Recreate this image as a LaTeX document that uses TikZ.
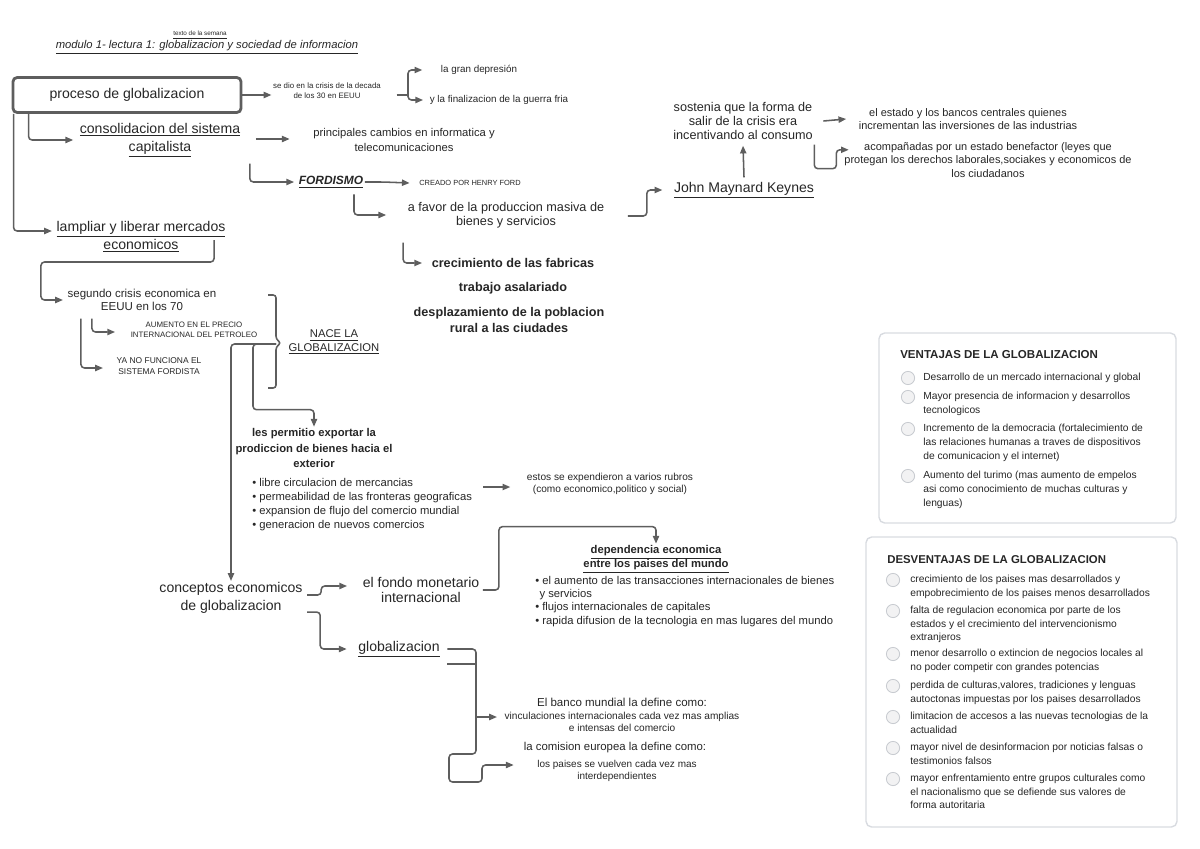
\documentclass[tikz,border=0pt]{standalone}
\usepackage{fontspec}
\setmainfont{Liberation Sans}
\usetikzlibrary{arrows.meta,calc,positioning}
\definecolor{txt}{HTML}{262626}
\definecolor{linea}{HTML}{5E5E5E}
\definecolor{marco}{HTML}{D8DBE0}
\definecolor{bola}{HTML}{F2F2F3}
\definecolor{bolaborde}{HTML}{C8CBD0}
\newcommand{\fz}[2]{\fontsize{#1}{#2}\selectfont}

\begin{document}
\begin{tikzpicture}[x=0.025cm, y=-0.025cm,
	conn/.style={draw=linea, line width=1.1pt, rounded corners=2.5pt, -{Triangle[length=5.5pt,width=4.4pt]}},
	trazo/.style={draw=linea, line width=1.1pt, rounded corners=2.5pt},
	lbl/.style={text=txt, align=center, inner sep=1pt},
	item/.style={text=txt, align=left, anchor=north west, inner sep=0pt},
	bolita/.style={draw=bolaborde, fill=bola, line width=0.6pt},
	caja/.style={draw=marco, line width=1pt, rounded corners=4pt}]
	\useasboundingbox (0,0) rectangle (1200,848);

	% titulo
	\node[lbl, font=\fz{4.5}{5}] (nota) at (200,35) {\underline{texto de la semana}};
	\node[lbl, font=\fz{8}{9}\itshape] (titulo) at (207,47) {\underline{modulo 1- lectura 1: globalizacion y sociedad de informacion}};

	% proceso de globalizacion
	\node[lbl, draw=linea, line width=2pt, rounded corners=3pt, minimum width=5.7cm, minimum height=0.875cm, font=\fz{10}{12}] (proceso) at (127,95) {proceso de globalizacion};
	\node[lbl, font=\fz{5.6}{7}] (sedio) at (327,91) {se dio en la crisis de la decada\\de los 30 en EEUU};
	\node[lbl, font=\fz{7}{8}] (depresion) at (479,70) {la gran depresión};
	\node[lbl, font=\fz{7}{8}] (guerrafria) at (499,100) {y la finalizacion de la guerra fria};
	\coordinate (llave) at (408,95);
	\draw[conn] (proceso.east) -- (proceso.east -| sedio.west);
	\draw[trazo] ($(sedio.east |- llave)+(14,0)$) -- (llave);
	\draw[conn] (llave) |- ($(depresion.west)+(-17,0)$);
	\draw[conn] (llave) |- ($(guerrafria.west)+(-5,0)$);

	% consolidacion
	\node[lbl, font=\fz{10}{12.8}] (capitalismo) at (160,140) {\underline{consolidacion del sistema}\\\underline{capitalista}};
	\draw[conn] ($(proceso.south west)+(17,0)$) |- ($(capitalismo.west)+(-5,0)$);
	\node[lbl, font=\fz{8}{10}] (cambios) at (404,140) {principales cambios en informatica y\\telecomunicaciones};
	\draw[conn] ($(capitalismo.east)+(14,-1)$) -- ($(cambios.west)+(-22,-1)$);
	\node[lbl, font=\fz{8.5}{9}\bfseries\itshape] (fordismo) at (331,182) {\underline{FORDISMO}};
	\draw[conn] ($(capitalismo.south east)+(8,5)$) |- ($(fordismo.west)+(-3,0)$);
	\node[lbl, font=\fz{5.3}{6}] (henryford) at (470,183) {CREADO POR HENRY FORD};
	\draw[conn] (fordismo.east) -- ++(18,0) -- ($(henryford.west)+(-8,0)$);
	\node[lbl, font=\fz{9}{10}] (masiva) at (506,215) {a favor de la produccion masiva de\\bienes y servicios};
	\draw[conn] ($(fordismo.south)+(23,5)$) |- ($(masiva.west)+(-20,0)$);

	% keynes
	\node[lbl, font=\fz{10}{12}] (keynes) at (744,190) {\underline{John Maynard Keynes}};
	\draw[conn] ($(masiva.east)+(22,1)$) -- ++(19,0) |- ($(keynes.west)+(-10,0)$);
	\node[lbl, font=\fz{9}{10.2}] (consumo) at (743,121) {sostenia que la forma de\\salir de la crisis era\\incentivando al consumo};
	\draw[conn] ($(keynes.north)+(0,-3)$) -- ($(consumo.south)+(0,4)$);
	\node[lbl, font=\fz{7.8}{9.4}] (bancos) at (968,119) {el estado y los bancos centrales quienes\\incrementan las inversiones de las industrias};
	\draw[conn] ($(consumo.east)+(9,0)$) -- ($(bancos.west)+(-11,0)$);
	\node[lbl, font=\fz{7.8}{9.6}] (benefactor) at (988,160) {acompañadas por un estado benefactor (leyes que\\protegan los derechos laborales,sociakes y economicos de\\los ciudadanos};
	\draw[conn] ($(consumo.south east)+(0,3)$) -- ++(0,24) -- ++(22,0) |- ($(benefactor.north west)+(6,9)$);

	% fabricas
	\node[lbl, font=\fz{9}{10}\bfseries] (fabricas) at (513,263) {crecimiento de las fabricas};
	\draw[conn] ($(masiva.south west)+(-3,13)$) |- ($(fabricas.west)+(-8,0)$);
	\node[lbl, font=\fz{9}{10}\bfseries] (asalariado) at (513,288) {trabajo asalariado};
	\node[lbl, font=\fz{9}{11.5}\bfseries] (poblacion) at (509,320) {desplazamiento de la poblacion\\rural a las ciudades};

	% mercados
	\node[lbl, font=\fz{10}{12.8}] (mercados) at (141,237) {\underline{lampliar y liberar mercados}\\\underline{economicos}};
	\draw[conn] ($(proceso.south west)+(2,0)$) |- ($(mercados.west)+(-3,-6)$);
	\node[lbl, font=\fz{8.2}{9.5}] (crisis70) at (142,300) {segundo crisis economica en\\EEUU en los 70};
	\draw[conn] ($(mercados.east)+(-13,3)$) -- ++(0,22) -| ($(crisis70.west)+(-25,0)$) -- ($(crisis70.west)+(-3,0)$);
	\node[lbl, font=\fz{5.6}{7}] (petroleo) at (194,330) {AUMENTO EN EL PRECIO\\INTERNACIONAL DEL PETROLEO};
	\draw[conn] ($(crisis70.south west)+(26,6)$) |- ($(petroleo.west)+(-14,2)$);
	\node[lbl, font=\fz{6}{8}] (fordista) at (159,366) {YA NO FUNCIONA EL\\SISTEMA FORDISTA};
	\draw[conn] ($(crisis70.south west)+(15,6)$) |- ($(fordista.west)+(-12,2)$);

	% nace la globalizacion
	\draw[trazo, rounded corners=2pt] (268,295) -- (276,295) -- (276,339) -- (281,343) -- (276,347) -- (276,388) -- (268,388);
	\coordinate (llaveB) at (276,344);
	\node[lbl, font=\fz{8}{9.5}] (nace) at (334,342) {\underline{NACE LA}\\\underline{GLOBALIZACION}};
	\node[lbl, font=\fz{8}{11}\bfseries] (exportar) at (314,448) {les permitio exportar la\\prodiccion de bienes hacia el\\exterior};
	\draw[conn] (llaveB) -- ++(-23,0) |- ($(exportar.north)+(0,-17)$) -- (exportar.north);
	\node[item, font=\fz{8}{10}] (rasgos) at (252,478) {\textbullet\ libre circulacion de mercancias\\\textbullet\ permeabilidad de las fronteras geograficas\\\textbullet\ expansion de flujo del comercio mundial\\\textbullet\ generacion de nuevos comercios};
	\node[lbl, font=\fz{7.2}{8.6}] (rubros) at (610,484) {estos se expendieron a varios rubros\\(como economico,politico y social)};
	\draw[conn] ($(rasgos.north east)+(11,9)$) -- ($(rubros.west)+(-15,3)$);

	% conceptos economicos
	\node[lbl, font=\fz{10}{12.5}] (conceptos) at (231,598) {conceptos economicos\\de globalizacion};
	\draw[conn] (llaveB) -| (conceptos.north);
	\node[lbl, font=\fz{10}{10.5}] (fmi) at (421,590) {el fondo monetario\\internacional};
	\draw[conn] ($(conceptos.east)+(3,-3)$) -- ++(14,0) |- ($(fmi.west)+(-14,-4)$);
	\node[lbl, font=\fz{8}{10}\bfseries] (dependencia) at (656,559) {\underline{dependencia economica}\\\underline{entre los paises del mundo}};
	\draw[conn] ($(fmi.east)+(2,0)$) -- ++(16,0) |- ($(dependencia.north)+(0,-17)$) -- (dependencia.north);
	\node[item, font=\fz{8}{9.4}] (efectos) at (535,576) {\textbullet\ el aumento de las transacciones internacionales de bienes\\\hspace{3pt}y servicios\\\textbullet\ flujos internacionales de capitales\\\textbullet\ rapida difusion de la tecnologia en mas lugares del mundo};
	\node[lbl, font=\fz{10}{11}] (globalizacion) at (399,649) {\underline{globalizacion}};
	\draw[conn] ($(conceptos.south east)+(3,-3)$) -- ++(13,0) |- ($(globalizacion.west)+(-10,0)$);

	% definiciones
	\node[lbl, font=\fz{8.2}{9}] (bm) at (622,702) {El banco mundial la define como:};
	\node[lbl, font=\fz{7.2}{8.5}] (vinculos) at (622,722) {vinculaciones internacionales cada vez mas amplias\\e intensas del comercio};
	\node[lbl, font=\fz{8.1}{9}] (ce) at (615,748) {la comision europea la define como:};
	\node[lbl, font=\fz{7.1}{8.5}] (interdep) at (617,771) {los paises se vuelven cada vez mas\\interdependientes};
	\coordinate (ramaA) at (476,649);
	\coordinate (ramaB) at (476,717);
	\coordinate (ramaC) at (476,754);
	\draw[trazo] ($(globalizacion.east)+(6,15)$) -- (ramaA |- 0,664);
	\draw[conn] (ramaB) -- ($(vinculos.west |- ramaB)+(-6,0)$);
	\draw[conn] ($(globalizacion.east)+(6,0)$) -- (ramaA) -- (ramaC) -- ++(-27,0) -- ++(0,28) -- ++(33,0) |- ($(interdep.west)+(-22,-6)$);

	% ventajas
	\draw[caja] (879,333) rectangle (1176,523);
	\node[anchor=west, inner sep=0pt, text=txt, font=\fz{8.2}{9}\bfseries] (ventajas) at (900,355) {VENTAJAS DE LA GLOBALIZACION};
	\foreach \y/\texto in {378/{Desarrollo de un mercado internacional y global},
		397/{Mayor presencia de informacion y desarrollos\\tecnologicos},
		429/{Incremento de la democracia (fortalecimiento de\\las relaciones humanas a traves de dispositivos\\de comunicacion y el internet)},
		476/{Aumento del turimo (mas aumento de empelos\\asi como conocimiento de muchas culturas y\\lenguas)}}
	{
		\draw[bolita] (908,\y) circle (4.7pt);
		\node[item, font=\fz{7.3}{9.7}] at (923,\y-5) {\texto};
	}

	% desventajas
	\draw[caja] (866,537) rectangle (1177,827);
	\node[anchor=west, inner sep=0pt, text=txt, font=\fz{8.1}{9}\bfseries] (desventajas) at (887,560) {DESVENTAJAS DE LA GLOBALIZACION};
	\foreach \y/\texto in {580/{crecimiento de los paises mas desarrollados y\\empobrecimiento de los paises menos desarrollados},
		611/{falta de regulacion economica por parte de los\\estados y el crecimiento del intervencionismo\\extranjeros},
		654/{menor desarrollo o extincion de negocios locales al\\no poder competir con grandes potencias},
		686/{perdida de culturas,valores, tradiciones y lenguas\\autoctonas impuestas por los paises desarrollados},
		717/{limitacion de accesos a las nuevas tecnologias de la\\actualidad},
		748/{mayor nivel de desinformacion por noticias falsas o\\testimonios falsos},
		779/{mayor enfrentamiento entre grupos culturales como\\el nacionalismo que se defiende sus valores de\\forma autoritaria}}
	{
		\draw[bolita] (893,\y) circle (4.7pt);
		\node[item, font=\fz{7.3}{9.6}] at (910,\y-5) {\texto};
	}
\end{tikzpicture}
\end{document}
